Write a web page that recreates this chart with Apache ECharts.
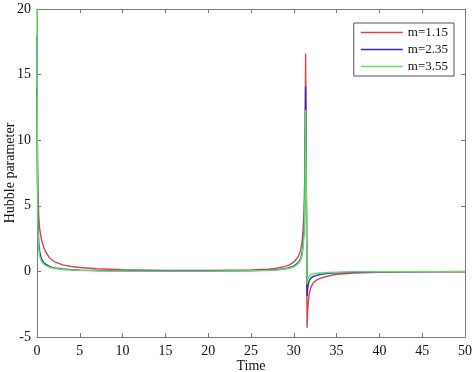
<!DOCTYPE html>
<html><head><meta charset="utf-8">
<script src="https://cdn.jsdelivr.net/npm/echarts@6/dist/echarts.min.js"></script>
<style>html,body{margin:0;padding:0;background:#fff}#c{width:474px;height:372px}</style>
</head><body><div id="c"></div>
<script>
const time = [0,0.05,0.1,0.2,0.3,0.5,0.75,1,1.5,2,3,4,5,7,10,15,20,25,27,28,29,29.5,30,30.5,30.8,31.0,31.2,31.3,31.38,31.55,31.6,31.7,31.8,32,32.3,32.7,33,34,35,37,40,45,50];
const hRed = [14,9,6.5,4.2,3.3,2.5,1.9,1.5,1.0,0.75,0.5,0.37,0.3,0.2,0.13,0.08,0.08,0.12,0.17,0.24,0.38,0.5,0.72,1.1,1.6,2.4,4.5,8,16.6,-4.3,-3.3,-2.3,-1.7,-1.2,-0.85,-0.65,-0.55,-0.35,-0.22,-0.12,-0.07,-0.04,-0.03];
const hBlue = [18,8,4.5,2.2,1.5,1.0,0.7,0.55,0.36,0.27,0.18,0.13,0.1,0.07,0.04,0.03,0.03,0.06,0.09,0.13,0.21,0.28,0.4,0.65,0.95,1.5,3.2,6.5,14.1,-1.9,-1.4,-0.95,-0.7,-0.5,-0.38,-0.3,-0.25,-0.15,-0.1,-0.06,-0.04,-0.02,-0.02];
const hGreen = [20,7,3.6,1.8,1.2,0.8,0.58,0.45,0.3,0.22,0.15,0.11,0.08,0.05,0.03,0.02,0.02,0.05,0.08,0.11,0.18,0.24,0.35,0.57,0.85,1.3,2.8,5.8,12.3,-1.0,-0.7,-0.45,-0.33,-0.25,-0.18,-0.14,-0.12,-0.08,-0.06,-0.04,-0.03,-0.02,-0.01];
const seriesNames = ['m=1.15','m=2.35','m=3.55'];
const seriesColors = ['#d9454b','#2a2ac0','#62e062'];

const font = 'Liberation Serif';
const axisGray = '#7a7a7a';
const pairs = v => time.map((t,i)=>[t,v[i]]);
const values = [hRed,hBlue,hGreen];

const chart = echarts.init(document.getElementById('c'));
const common = {
  axisLine:{show:true,onZero:false,lineStyle:{color:axisGray,width:1}},
  axisTick:{show:true,inside:true,length:4,lineStyle:{color:axisGray}},
  splitLine:{show:false}
};
chart.setOption({
  backgroundColor:'#fff',
  animation:false,
  grid:{left:37,right:9,top:9,bottom:35,containLabel:false,outerBoundsMode:'none'},
  legend:{
    orient:'vertical', right:20, top:23,
    data:seriesNames,
    icon:'rect', itemWidth:42, itemHeight:1.5, itemGap:4,
    padding:[3,6,3,7],
    borderColor:'#555', borderWidth:1, backgroundColor:'#fff',
    textStyle:{fontFamily:font,fontSize:13,color:'#111'}
  },
  xAxis:[
    Object.assign({type:'value',min:0,max:50,interval:5,position:'bottom',
      name:'Time',nameLocation:'middle',nameGap:22,nameMoveOverlap:false,
      nameTextStyle:{fontFamily:font,fontSize:14,color:'#111'},
      axisLabel:{fontFamily:font,fontSize:14,color:'#111',margin:7}},common),
    Object.assign({type:'value',min:0,max:50,interval:5,position:'top',
      axisLabel:{show:false}},common)
  ],
  yAxis:[
    Object.assign({type:'value',min:-5,max:20,interval:5,position:'left',
      name:'Hubble parameter',nameLocation:'middle',nameGap:20,nameRotate:90,nameMoveOverlap:false,
      nameTextStyle:{fontFamily:font,fontSize:14,color:'#111'},
      axisLabel:{fontFamily:font,fontSize:14,color:'#111',margin:6}},common),
    Object.assign({type:'value',min:-5,max:20,interval:5,position:'right',
      axisLabel:{show:false}},common)
  ],
  series: seriesNames.map((n,i)=>({
    name:n,type:'line',data:pairs(values[i]),showSymbol:false,
    lineStyle:{color:seriesColors[i],width:1.4},itemStyle:{color:seriesColors[i]},
    clip:true
  }))
});
</script></body></html>
